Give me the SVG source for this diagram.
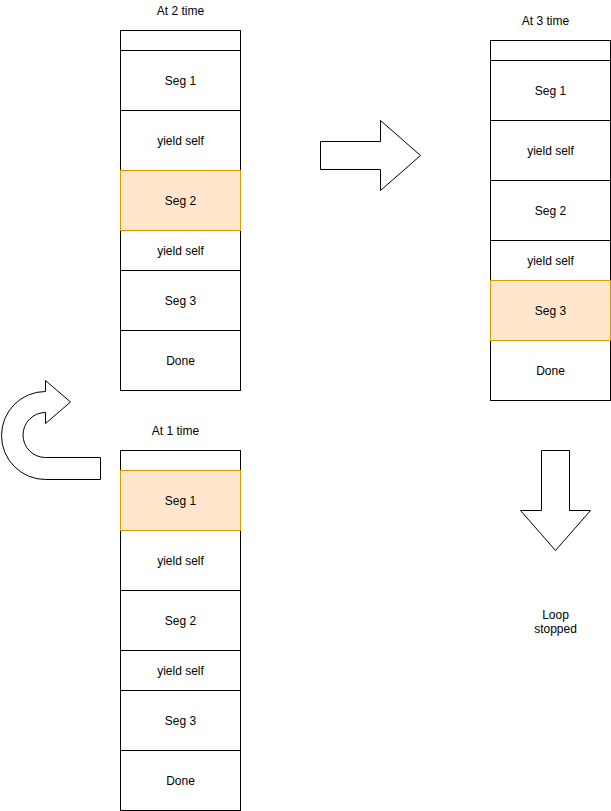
<svg xmlns="http://www.w3.org/2000/svg" width="611" height="811" viewBox="0 0 611 811">
<style>
.box{fill:#ffffff;stroke:#000000;stroke-width:1}
.hl{fill:#ffe6cc;stroke:#d79b00;stroke-width:1}
.arrow{fill:#ffffff;stroke:#000000;stroke-width:1;stroke-linejoin:miter}
text{font-family:"Liberation Sans",Arial,Helvetica,sans-serif;font-size:12px;fill:#000000;text-anchor:middle}
</style>
<rect width="611" height="811" fill="#ffffff"/>
<g transform="translate(0.5,0.5)">
<!-- Column: At 2 time -->
<g id="col2">
  <g id="t2-title"><text x="180" y="14">At 2 time</text></g>
  <g id="t2-head"><rect class="box" x="120" y="30" width="120" height="20"/></g>
  <g id="t2-seg1"><rect class="box" x="120" y="50" width="120" height="60"/><text x="180" y="84">Seg 1</text></g>
  <g id="t2-yield1"><rect class="box" x="120" y="110" width="120" height="60"/><text x="180" y="144">yield self</text></g>
  <g id="t2-yield2"><rect class="box" x="120" y="230" width="120" height="40"/><text x="180" y="254">yield self</text></g>
  <g id="t2-seg3"><rect class="box" x="120" y="270" width="120" height="60"/><text x="180" y="304">Seg 3</text></g>
  <g id="t2-done"><rect class="box" x="120" y="330" width="120" height="60"/><text x="180" y="364">Done</text></g>
  <g id="t2-seg2"><rect class="hl" x="120" y="170" width="120" height="60"/><text x="180" y="204">Seg 2</text></g>
</g>
<!-- Column: At 3 time -->
<g id="col3">
  <g id="t3-title"><text x="545" y="24">At 3 time</text></g>
  <g id="t3-head"><rect class="box" x="490" y="40" width="120" height="20"/></g>
  <g id="t3-seg1"><rect class="box" x="490" y="60" width="120" height="60"/><text x="550" y="94">Seg 1</text></g>
  <g id="t3-yield1"><rect class="box" x="490" y="120" width="120" height="60"/><text x="550" y="154">yield self</text></g>
  <g id="t3-seg2"><rect class="box" x="490" y="180" width="120" height="60"/><text x="550" y="214">Seg 2</text></g>
  <g id="t3-yield2"><rect class="box" x="490" y="240" width="120" height="40"/><text x="550" y="264">yield self</text></g>
  <g id="t3-done"><rect class="box" x="490" y="340" width="120" height="60"/><text x="550" y="374">Done</text></g>
  <g id="t3-seg3"><rect class="hl" x="490" y="280" width="120" height="60"/><text x="550" y="314">Seg 3</text></g>
</g>
<!-- Column: At 1 time -->
<g id="col1">
  <g id="t1-title"><text x="175" y="434">At 1 time</text></g>
  <g id="t1-head"><rect class="box" x="120" y="450" width="120" height="20"/></g>
  <g id="t1-yield1"><rect class="box" x="120" y="530" width="120" height="60"/><text x="180" y="564">yield self</text></g>
  <g id="t1-seg2"><rect class="box" x="120" y="590" width="120" height="60"/><text x="180" y="624">Seg 2</text></g>
  <g id="t1-yield2"><rect class="box" x="120" y="650" width="120" height="40"/><text x="180" y="674">yield self</text></g>
  <g id="t1-seg3"><rect class="box" x="120" y="690" width="120" height="60"/><text x="180" y="724">Seg 3</text></g>
  <g id="t1-done"><rect class="box" x="120" y="750" width="120" height="60"/><text x="180" y="784">Done</text></g>
  <g id="t1-seg1"><rect class="hl" x="120" y="470" width="120" height="60"/><text x="180" y="504">Seg 1</text></g>
</g>
<g id="loop-stopped"><text x="555" y="618">Loop</text><text x="555" y="632">stopped</text></g>
<!-- Connectors (block arrows) -->
<g id="connectors">
  <path id="arrow-right" class="arrow" d="M320 141 L380 141 L380 120 L420 155 L380 190 L380 169 L320 169 Z"/>
  <path id="arrow-down" class="arrow" d="M541 450 L569 450 L569 510 L590 510 L555 550 L520 510 L541 510 Z"/>
  <path id="arrow-uturn" class="arrow" d="M100 457 L45 457 A22.5 22.5 0 0 1 45 412 L45 423 L70 401.5 L45 380 L45 391 A44 44 0 0 0 45 479 L100 479 Z"/>
</g>
</g>
</svg>
